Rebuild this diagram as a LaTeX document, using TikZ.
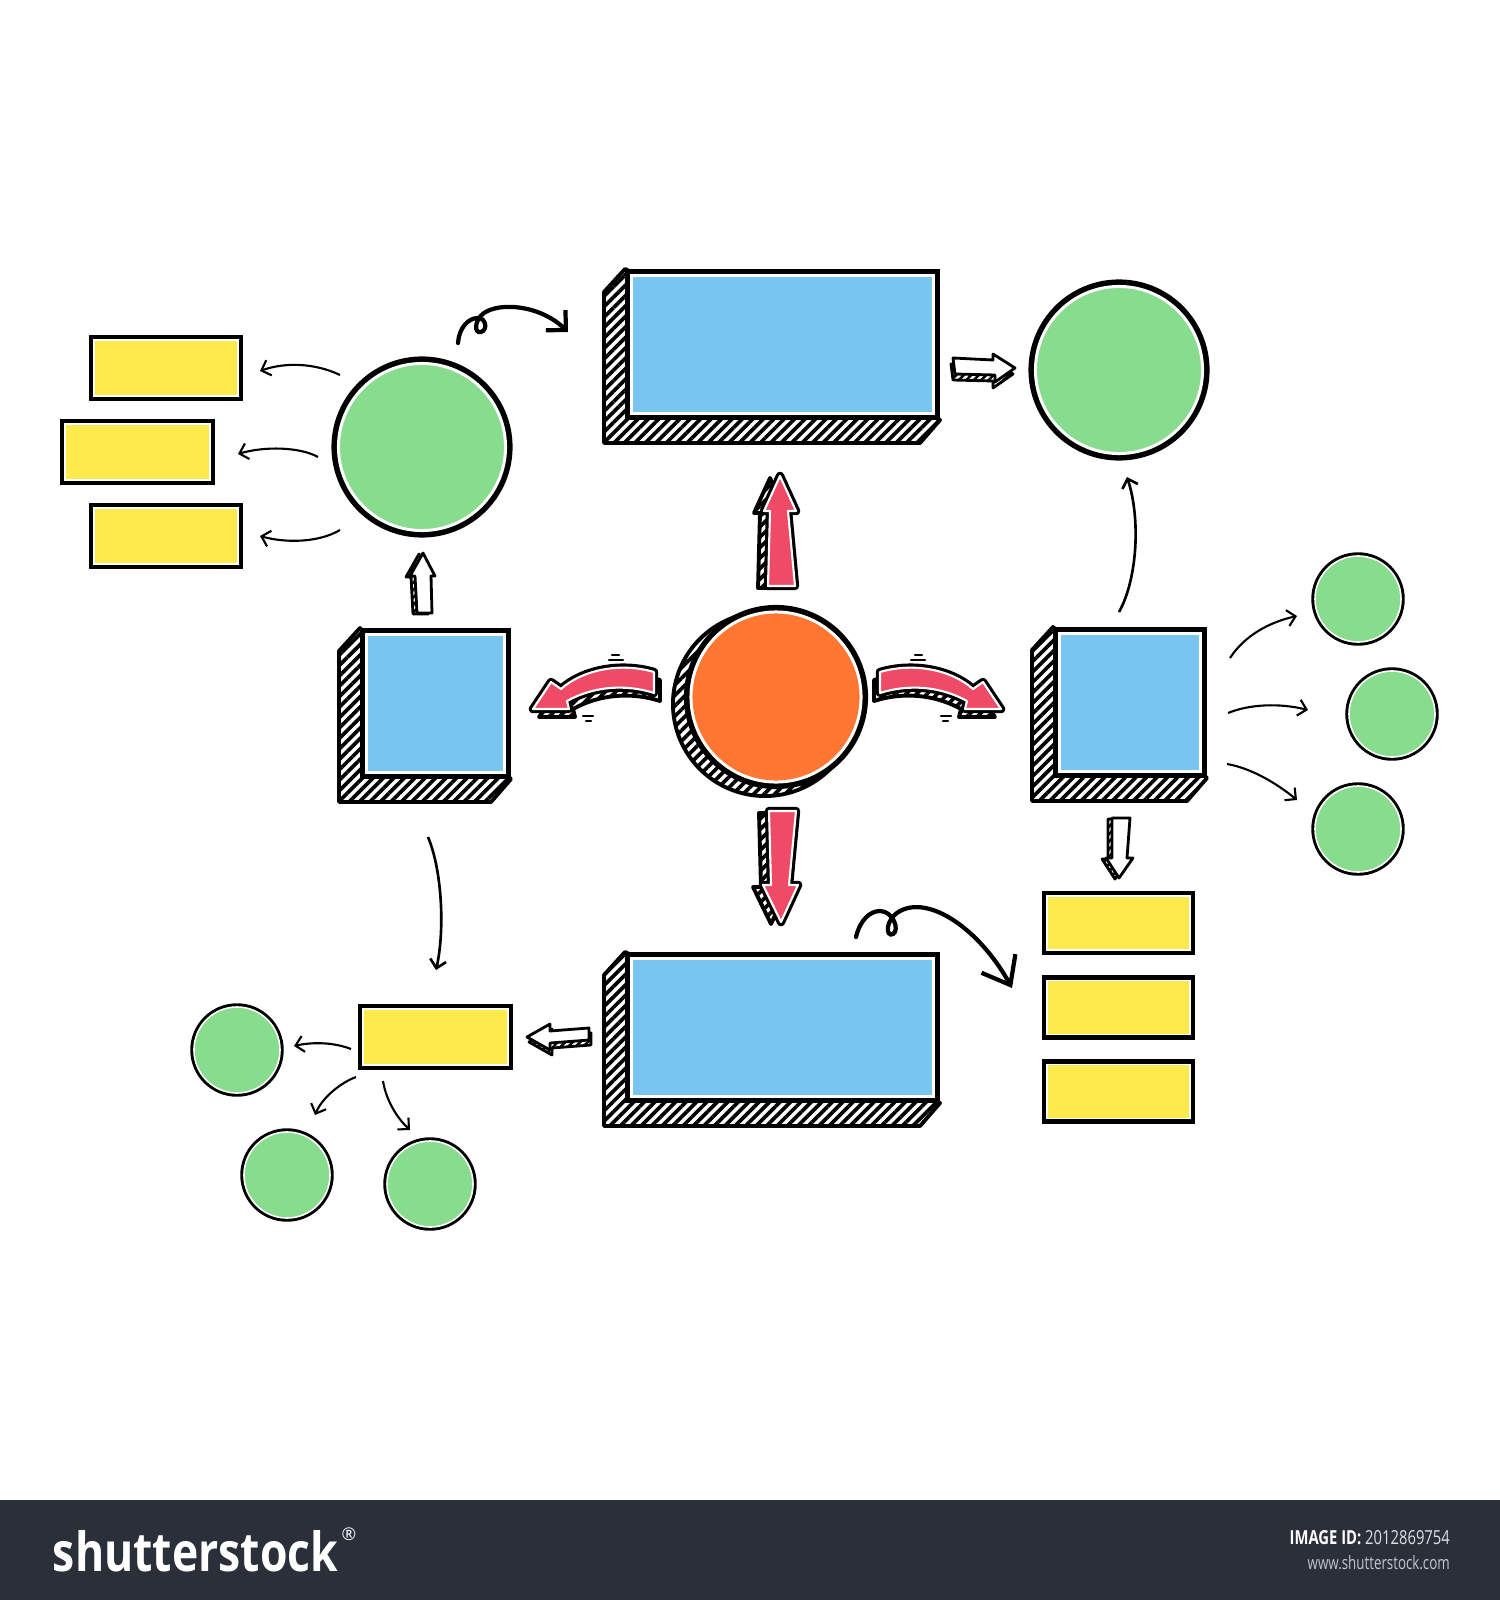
\documentclass[tikz,border=0pt]{standalone}
\usepackage{fontspec}
\newfontfamily\barfont{Open Sans}
\usetikzlibrary{arrows.meta,patterns.meta}
\definecolor{cblue}{HTML}{78C5F0}
\definecolor{cgreen}{HTML}{88DC8E}
\definecolor{cyellow}{HTML}{FFEA4B}
\definecolor{corange}{HTML}{FF7733}
\definecolor{cred}{HTML}{EF4B67}
\definecolor{cbar}{HTML}{2A2F3A}
\definecolor{cidtxt}{HTML}{DDDFE3}
\definecolor{curltxt}{HTML}{C3C6CD}
\tikzset{
  bigframe/.style={preaction={draw=black,line width=4pt}, draw=white, line width=0.85pt, inner sep=0pt, outer sep=0pt},
  smallcirc/.style={circle, fill=cgreen, minimum size=0.86cm, preaction={draw=black,line width=2.1pt}, draw=white, line width=0.45pt, inner sep=0pt, outer sep=0pt},
  ybox/.style={fill=cyellow, preaction={draw=black,line width=2.85pt}, draw=white, line width=0.55pt, inner sep=0pt, outer sep=0pt, minimum width=1.44cm, minimum height=0.56cm},
  hatch/.style={preaction={fill=white}, pattern={Lines[angle=45,distance=2.1pt,line width=1.05pt]}, draw=black, line width=1.1pt, line join=round},
  redarrow/.style={preaction={draw=black,line width=2.4pt,line join=round}, fill=cred, draw=white, line width=0.6pt, line join=round},
  hollow/.style={fill=white, draw=black, line width=0.8pt, line join=round},
  hollowside/.style={preaction={fill=white}, pattern={Lines[angle=45,distance=1.5pt,line width=0.7pt]}, draw=black, line width=0.8pt, line join=round},
  thinarrow/.style={draw=black, line width=0.6pt, -{Straight Barb[length=2.3pt,width=4.6pt]}},
  curly/.style={draw=black, line width=1.2pt, line cap=round},
  motionmark/.style={draw=black, line width=0.6pt, line cap=round}
}
\begin{document}
\begin{tikzpicture}[x=0.01cm,y=-0.01cm]
\useasboundingbox (0,0) rectangle (1500,1600);
\fill[white] (0,0) rectangle (1500,1500);
\fill[cbar] (0,1500) rectangle (1500,1600);

% ---- 3D blue boxes: sides
\draw[hatch] (625,269) -- (604,292) -- (604,443) -- (920,443) -- (940,420) -- cycle;
\draw[hatch] (625,952) -- (604,975) -- (604,1126) -- (920,1126) -- (940,1103) -- cycle;
\draw[hatch] (360,628) -- (339,651) -- (339,802) -- (491,802) -- (511,779) -- cycle;
\draw[hatch] (1053,627) -- (1032,650) -- (1032,801) -- (1187,801) -- (1207,778) -- cycle;
% ---- fronts
\node[bigframe, fill=cblue, minimum width=3.01cm, minimum height=1.37cm] (tb) at (782.5,344.5) {};
\node[bigframe, fill=cblue, minimum width=3.01cm, minimum height=1.37cm] (bb) at (782.5,1027.5) {};
\node[bigframe, fill=cblue, minimum width=1.37cm, minimum height=1.37cm] (lb) at (435.5,703.5) {};
\node[bigframe, fill=cblue, minimum width=1.40cm, minimum height=1.37cm] (rb) at (1130,702.5) {};

% ---- big circles
\node[bigframe, circle, fill=cgreen, minimum size=1.67cm] (lc) at (422,447) {};
\node[bigframe, circle, fill=cgreen, minimum size=1.67cm] (trc) at (1119,370) {};

% ---- center coin
\node[circle, hatch, minimum size=1.84cm, inner sep=0pt] (coinback) at (765,704) {};
\node[bigframe, circle, fill=corange, minimum size=1.70cm] (coin) at (776,697) {};

% ---- small circles
\node[smallcirc] (rc1) at (1358,599) {};
\node[smallcirc] (rc2) at (1392,714) {};
\node[smallcirc] (rc3) at (1358,829) {};
\node[smallcirc] (bc1) at (237,1050) {};
\node[smallcirc] (bc2) at (287,1175) {};
\node[smallcirc] (bc3) at (430,1184) {};

% ---- yellow boxes
\node[ybox] (y1) at (166,368) {};
\node[ybox, minimum width=1.45cm] (y2) at (137.5,452) {};
\node[ybox] (y3) at (166,536) {};
\node[ybox, minimum width=1.43cm, minimum height=0.54cm] (ry1) at (1118.5,923) {};
\node[ybox, minimum width=1.43cm, minimum height=0.54cm] (ry2) at (1118.5,1007.5) {};
\node[ybox, minimum width=1.43cm, minimum height=0.54cm] (ry3) at (1118.5,1091.5) {};
\node[ybox, minimum width=1.45cm] (by) at (435.5,1037) {};

% ---- red arrows: up
\begin{scope}[shift={(-10,2)}]
\draw[hatch] (780,476) -- (796,511) -- (788,511) -- (795,586) -- (768,586) -- (770,511) -- (764,511) -- cycle;
\end{scope}
\draw[redarrow] (780,476) -- (796,511) -- (788,511) -- (795,586) -- (768,586) -- (770,511) -- (764,511) -- cycle;
% down
\begin{scope}[shift={(-10,2)}]
\draw[hatch] (769,811) -- (796,811) -- (789,885) -- (798,885) -- (781,922) -- (763,885) -- (771,885) -- cycle;
\end{scope}
\draw[redarrow] (769,811) -- (796,811) -- (789,885) -- (798,885) -- (781,922) -- (763,885) -- (771,885) -- cycle;
% left curved and right curved (mirror)
\foreach \mir/\sh in {1/0, -1/1534} {
\begin{scope}[shift={(\sh,0)}, xscale=\mir]
\begin{scope}[shift={(6,8)}]
\draw[hatch] (654,672) .. controls (620,662) and (582,670) .. (561,689) -- (551,682) -- (533,709) -- (569,709) -- (567,701) .. controls (594,686) and (626,684) .. (654,693) -- cycle;
\end{scope}
\draw[redarrow] (654,672) .. controls (620,662) and (582,670) .. (561,689) -- (551,682) -- (533,709) -- (569,709) -- (567,701) .. controls (594,686) and (626,684) .. (654,693) -- cycle;
\draw[motionmark] (612,655) -- (619,655);
\draw[motionmark] (609,660) -- (623,660);
\draw[motionmark] (583,716) -- (593,716);
\draw[motionmark] (586,721) -- (591,721);
\end{scope}
}

% ---- hollow arrows
\begin{scope}[shift={(-2,6)}]
\draw[hollowside] (953,358) -- (993,360) -- (993,354) -- (1015,368) -- (995,382) -- (995,375) -- (955,374) -- cycle;
\end{scope}
\draw[hollow] (953,358) -- (993,360) -- (993,354) -- (1015,368) -- (995,382) -- (995,375) -- (955,374) -- cycle;

\begin{scope}[shift={(-4,1)}]
\draw[hollowside] (423,553) -- (435,576) -- (431,576) -- (432,613) -- (417,613) -- (415,576) -- (410,576) -- cycle;
\end{scope}
\draw[hollow] (423,553) -- (435,576) -- (431,576) -- (432,613) -- (417,613) -- (415,576) -- (410,576) -- cycle;

\begin{scope}[shift={(-4,1)}]
\draw[hollowside] (1112,818) -- (1130,818) -- (1127,858) -- (1133,858) -- (1119,878) -- (1106,858) -- (1112,858) -- cycle;
\end{scope}
\draw[hollow] (1112,818) -- (1130,818) -- (1127,858) -- (1133,858) -- (1119,878) -- (1106,858) -- (1112,858) -- cycle;

\begin{scope}[shift={(2,5)}]
\draw[hollowside] (527,1037) -- (550,1024) -- (550,1031) -- (589,1028) -- (589,1040) -- (550,1043) -- (550,1050) -- cycle;
\end{scope}
\draw[hollow] (527,1037) -- (550,1024) -- (550,1031) -- (589,1028) -- (589,1040) -- (550,1043) -- (550,1050) -- cycle;

% ---- thin connector end points
\coordinate (lcA) at (340,375);  \coordinate (y1A) at (260,371);
\coordinate (lcB) at (318,457);  \coordinate (y2A) at (238,454);
\coordinate (lcC) at (340,530);  \coordinate (y3A) at (260,536);
\coordinate (rbA) at (1230,658); \coordinate (rc1A) at (1297,616);
\coordinate (rbB) at (1228,713); \coordinate (rc2A) at (1308,710);
\coordinate (rbC) at (1227,764); \coordinate (rc3A) at (1297,800);
\coordinate (rbT) at (1119,612); \coordinate (trcB) at (1127,477);
\coordinate (lbB) at (428,837);  \coordinate (byT) at (436,970);
\coordinate (byA) at (351,1049); \coordinate (bc1A) at (294,1046);
\coordinate (byB) at (356,1077); \coordinate (bc2A) at (315,1115);
\coordinate (byC) at (383,1081); \coordinate (bc3A) at (410,1130);
\coordinate (lcTop) at (458,343); \coordinate (tbL) at (568,332);
\coordinate (bbTop) at (856,937); \coordinate (ryL) at (1012,988);

\draw[thinarrow] (lcA) .. controls (315,363) and (285,362) .. (y1A);
\draw[thinarrow] (lcB) .. controls (300,447) and (265,446) .. (y2A);
\draw[thinarrow] (lcC) .. controls (318,543) and (285,543) .. (y3A);
\draw[thinarrow] (rbA) .. controls (1245,635) and (1270,622) .. (rc1A);
\draw[thinarrow] (rbB) .. controls (1250,704) and (1280,703) .. (rc2A);
\draw[thinarrow] (rbC) .. controls (1250,768) and (1275,782) .. (rc3A);
\draw[thinarrow, line width=0.75pt] (rbT) .. controls (1137,580) and (1141,520) .. (trcB);
\draw[thinarrow, line width=0.75pt] (lbB) .. controls (442,870) and (445,930) .. (byT);
\draw[thinarrow] (byA) .. controls (333,1042) and (312,1042) .. (bc1A);
\draw[thinarrow] (byB) .. controls (340,1083) and (322,1098) .. (bc2A);
\draw[thinarrow] (byC) .. controls (386,1100) and (397,1118) .. (bc3A);

% ---- curly arrows
\draw[curly, -{Straight Barb[length=4pt,width=8pt]}] (lcTop) .. controls (459,328) and (468,318) .. (478,318) .. controls (486,318) and (488,330) .. (481,332) .. controls (474,334) and (474,320) .. (484,313) .. controls (500,302) and (540,305) .. (tbL);
\draw[curly, -{Straight Barb[length=7pt,width=11pt]}] (bbTop) .. controls (860,920) and (870,911) .. (880,911) .. controls (893,911) and (900,930) .. (893,934) .. controls (886,938) and (884,920) .. (900,911) .. controls (930,895) and (980,930) .. (ryL);

% ---- bottom bar texts
\node[anchor=south west, inner sep=0pt, outer sep=0pt, text=white] (logo) at (53,1572) {\resizebox{2.85cm}{0.41cm}{\barfont\bfseries shutterstock}};
\node[anchor=south west, inner sep=0pt, text=white] (reg) at (341,1541) {\barfont\fontsize{5pt}{5pt}\selectfont ®};
\node[anchor=south west, inner sep=0pt] (imgid) at (1289,1545) {\resizebox{1.60cm}{0.14cm}{\barfont\color{white}\bfseries IMAGE ID:\mdseries\color{cidtxt}\ 2012869754}};
\node[anchor=south west, inner sep=0pt] (url) at (1307,1570) {\resizebox{1.42cm}{0.14cm}{\barfont\color{curltxt} www.shutterstock.com}};
\end{tikzpicture}
\end{document}
